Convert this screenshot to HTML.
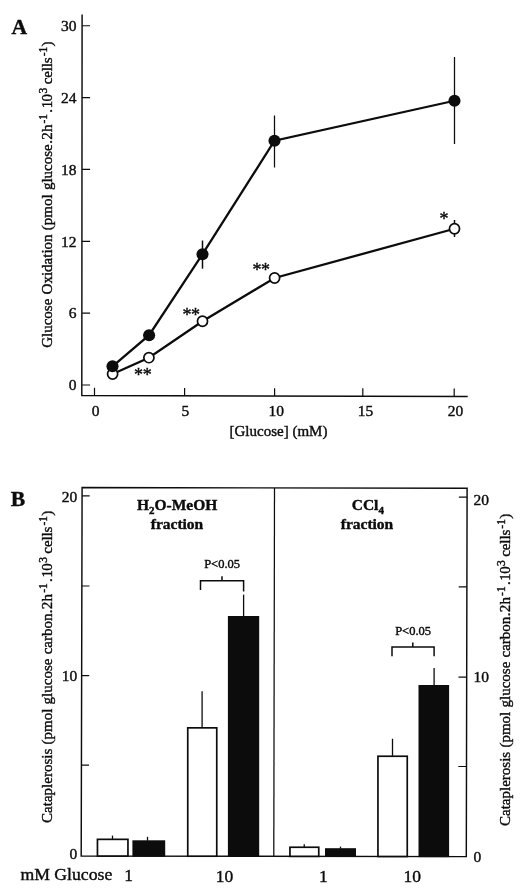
<!DOCTYPE html>
<html lang="en"><head><meta charset="utf-8"><title>Figure</title>
<style>html,body{margin:0;padding:0;background:#fff}body{width:520px;height:896px;overflow:hidden}svg{display:block}text{font-family:"Liberation Serif", "Times New Roman", serif;fill:#0c0c0c;stroke:#0c0c0c;stroke-width:.4px}</style>
</head><body>
<svg width="520" height="896" viewBox="0 0 520 896">
<rect width="520" height="896" fill="#fff"/>
<g id="panelA" stroke="#0c0c0c" fill="none">
<path d="M82.10 14.5 L81.80 395.50 L467.7 396.4" stroke-width="1.45" stroke-linejoin="miter"/>
<path d="M82.10 385.00 h8M82.10 313.15 h8M82.10 241.30 h8M82.10 169.45 h8M82.10 97.60 h8M82.10 25.75 h8M94.50 395.53 v-7.8M184.60 395.74 v-7.8M274.60 395.95 v-7.8M362.80 396.16 v-7.8M454.20 396.37 v-7.8" stroke-width="1.2"/>
<path d="M202.5 240.5V268.7" stroke-width="1.5"/>
<path d="M274.5 115.5V167.5M454.5 57V143.9" stroke-width="1.25"/>
<path d="M454.5 220V237" stroke-width="1.5"/>
<polyline points="112.50,366.30 149.10,335.20 202.50,254.20 274.50,140.75 454.50,100.75" stroke-width="2.3"/>
<polyline points="112.60,374.00 148.90,357.70 202.50,321.25 274.60,278.00 454.50,228.75" stroke-width="2.3"/>
<circle cx="112.60" cy="374.00" r="5.05" fill="#fff" stroke-width="1.7"/>
<circle cx="148.90" cy="357.70" r="5.05" fill="#fff" stroke-width="1.7"/>
<circle cx="202.50" cy="321.25" r="5.05" fill="#fff" stroke-width="1.7"/>
<circle cx="274.60" cy="278.00" r="5.05" fill="#fff" stroke-width="1.7"/>
<circle cx="454.50" cy="228.75" r="5.05" fill="#fff" stroke-width="1.7"/>
<circle cx="112.50" cy="366.30" r="6.05" fill="#0c0c0c" stroke="none"/>
<circle cx="149.10" cy="335.20" r="6.05" fill="#0c0c0c" stroke="none"/>
<circle cx="202.50" cy="254.20" r="6.05" fill="#0c0c0c" stroke="none"/>
<circle cx="274.50" cy="140.75" r="6.05" fill="#0c0c0c" stroke="none"/>
<circle cx="454.50" cy="100.75" r="6.05" fill="#0c0c0c" stroke="none"/>
</g>
<text x="11.4" y="33.7" font-size="21.6" font-weight="bold" stroke-width=".4">A</text>
<text x="76.4" y="390.20" font-size="15.5" text-anchor="end">0</text>
<text x="76.4" y="318.35" font-size="15.5" text-anchor="end">6</text>
<text x="76.4" y="246.50" font-size="15.5" text-anchor="end">12</text>
<text x="76.4" y="174.65" font-size="15.5" text-anchor="end">18</text>
<text x="76.4" y="102.80" font-size="15.5" text-anchor="end">24</text>
<text x="76.4" y="30.95" font-size="15.5" text-anchor="end">30</text>
<text x="95.60" y="416.1" font-size="15.5" text-anchor="middle">0</text>
<text x="185.30" y="416.1" font-size="15.5" text-anchor="middle">5</text>
<text x="276.20" y="416.1" font-size="15.5" text-anchor="middle">10</text>
<text x="365.60" y="416.1" font-size="15.5" text-anchor="middle">15</text>
<text x="455.40" y="416.1" font-size="15.5" text-anchor="middle">20</text>
<text x="278.5" y="435.75" font-size="15" text-anchor="middle">[Glucose] (mM)</text>
<text transform="translate(52.00 347.80) rotate(-90)" font-size="15" word-spacing="0.5">Glucose Oxidation (pmol glucose<tspan dx="0.4" letter-spacing="0.25">.2h</tspan><tspan font-size="11.5" dy="-5" dx="0.8">-1</tspan><tspan dy="5" dx="1.3">.</tspan><tspan dx="0.6" letter-spacing="-0.6">10</tspan><tspan font-size="11.5" dy="-5" dx="1.0">3</tspan><tspan dy="5" dx="-0.75" letter-spacing="-0.12"> cells</tspan><tspan font-size="11.5" dy="-5" dx="1.2">-1</tspan><tspan dy="5" dx="0.3">)</tspan></text>
<text x="142.70" y="380.70" font-size="18" text-anchor="middle" letter-spacing="-0.4" stroke="none">**</text>
<text x="191.00" y="321.45" font-size="18" text-anchor="middle" letter-spacing="-0.4" stroke="none">**</text>
<text x="261.00" y="276.45" font-size="18" text-anchor="middle" letter-spacing="-0.4" stroke="none">**</text>
<text x="443.85" y="225.30" font-size="18" text-anchor="middle" letter-spacing="-0.4" stroke="none">*</text>
<g id="panelB" stroke="#0c0c0c" fill="none">
<path d="M82.1 487.5 L467.1 488.3 L466.3 856.6 L81.2 856.0 Z" stroke-width="1.45"/>
<path d="M274.5 487.90L273.8 856.10" stroke-width="1.25"/>
<path d="M81.42 765.10h7.6M466.50 766.50h-8.2M81.64 675.60h7.6M466.69 677.10h-8.2M81.86 586.00h7.6M466.89 586.90h-8.2M82.08 495.90h7.6M467.08 497.10h-8.2" stroke-width="1.15"/>
<path d="M112.50 835.60V839.00" stroke-width="1.3"/>
<rect x="97.45" y="839.35" width="30.50" height="16.70" fill="#fff" stroke-width="1.7"/>
<path d="M147.50 836.80V840.80" stroke-width="1.3"/>
<rect x="132.40" y="840.30" width="32.80" height="16.41" fill="#0c0c0c" stroke="none"/>
<path d="M202.10 691.20V727.50" stroke-width="1.3"/>
<rect x="187.75" y="727.85" width="29.00" height="128.34" fill="#fff" stroke-width="1.7"/>
<path d="M243.60 594.60V616.50" stroke-width="1.3"/>
<rect x="227.90" y="616.00" width="31.30" height="240.85" fill="#0c0c0c" stroke="none"/>
<path d="M304.25 844.30V846.90" stroke-width="1.3"/>
<rect x="289.95" y="847.25" width="28.80" height="9.10" fill="#fff" stroke-width="1.7"/>
<path d="M340.50 846.60V848.70" stroke-width="1.3"/>
<rect x="325.00" y="848.20" width="31.00" height="8.80" fill="#0c0c0c" stroke="none"/>
<path d="M392.50 738.75V755.90" stroke-width="1.3"/>
<rect x="377.95" y="756.25" width="29.30" height="100.24" fill="#fff" stroke-width="1.7"/>
<path d="M434.10 668.00V685.50" stroke-width="1.3"/>
<rect x="418.50" y="685.00" width="30.60" height="172.15" fill="#0c0c0c" stroke="none"/>
<path d="M200.5 590V580.8H243.6V591.6M222 580.8V576.2" stroke-width="1.5"/>
<path d="M392 656.3V646.9H434.1V656.3M412.8 646.9V642.4" stroke-width="1.5"/>
</g>
<text x="10.7" y="505.6" font-size="21.6" font-weight="bold" stroke-width=".4">B</text>
<text x="77.2" y="501.60" font-size="15.5" text-anchor="end">20</text>
<text x="77.2" y="681.40" font-size="15.5" text-anchor="end">10</text>
<text x="77.2" y="859.30" font-size="15.5" text-anchor="end">0</text>
<text x="473.5" y="504.50" font-size="15.5">20</text>
<text x="473.5" y="681.80" font-size="15.5">10</text>
<text x="473.5" y="862.20" font-size="15.5">0</text>
<text x="177.1" y="509.7" font-size="15.5" font-weight="bold" text-anchor="middle">H<tspan font-size="11" dy="4">2</tspan><tspan dy="-4">O-MeOH</tspan></text>
<text x="177" y="528.6" font-size="15.5" font-weight="bold" text-anchor="middle">fraction</text>
<text x="367.8" y="509.7" font-size="15.5" font-weight="bold" text-anchor="middle">CCl<tspan font-size="11" dy="4">4</tspan></text>
<text x="367" y="528.6" font-size="15.5" font-weight="bold" text-anchor="middle">fraction</text>
<text x="222.1" y="568.4" font-size="12.5" text-anchor="middle">P&lt;0.05</text>
<text x="413.1" y="634.7" font-size="12.5" text-anchor="middle">P&lt;0.05</text>
<text x="20.4" y="880.3" font-size="17.7">mM Glucose</text>
<text x="128.60" y="881.40" font-size="17.5" text-anchor="middle">1</text>
<text x="224.50" y="881.70" font-size="17.5" text-anchor="middle">10</text>
<text x="323.25" y="882.00" font-size="17.5" text-anchor="middle">1</text>
<text x="412.30" y="882.30" font-size="17.5" text-anchor="middle">10</text>
<text transform="translate(51.60 822.90) rotate(-90)" font-size="15" word-spacing="0.5">Cataplerosis (pmol glucose carbon<tspan dx="0.4" letter-spacing="0.25">.2h</tspan><tspan font-size="11.5" dy="-5" dx="0.8">-1</tspan><tspan dy="5" dx="1.3">.</tspan><tspan dx="0.6" letter-spacing="-0.6">10</tspan><tspan font-size="11.5" dy="-5" dx="1.0">3</tspan><tspan dy="5" dx="-0.75" letter-spacing="-0.12"> cells</tspan><tspan font-size="11.5" dy="-5" dx="1.2">-1</tspan><tspan dy="5" dx="0.3">)</tspan></text>
<text transform="translate(509.60 826.00) rotate(-90)" font-size="15" word-spacing="0.5">Cataplerosis (pmol glucose carbon<tspan dx="0.4" letter-spacing="0.25">.2h</tspan><tspan font-size="11.5" dy="-5" dx="0.8">-1</tspan><tspan dy="5" dx="1.3">.</tspan><tspan dx="0.6" letter-spacing="-0.6">10</tspan><tspan font-size="11.5" dy="-5" dx="1.0">3</tspan><tspan dy="5" dx="-0.75" letter-spacing="-0.12"> cells</tspan><tspan font-size="11.5" dy="-5" dx="1.2">-1</tspan><tspan dy="5" dx="0.3">)</tspan></text>
</svg></body></html>
